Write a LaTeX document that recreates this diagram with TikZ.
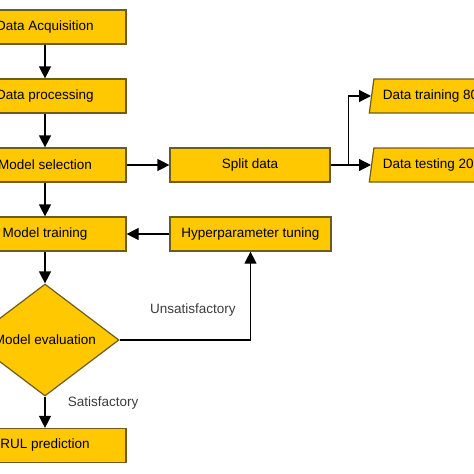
\documentclass[tikz,border=0pt]{standalone}
\usepackage{fontspec}
\setmainfont{Liberation Sans}
\usetikzlibrary{shapes.geometric,arrows.meta}
\definecolor{boxfill}{RGB}{255,200,0}
\definecolor{boxline}{RGB}{110,92,30}
\definecolor{labelgray}{RGB}{60,60,60}

\begin{document}
\begin{tikzpicture}[x=1pt, y=-1pt, font=\fontsize{13.5}{16}\selectfont, node distance={69pt}, line width=1.2pt, >={Triangle[length=12pt, width=12pt]}, main/.style = {draw=boxline, fill=boxfill, minimum width=162pt, minimum height=34pt, inner sep=0pt}, slant/.style = {draw=boxline, fill=boxfill, trapezium, trapezium left angle=70, trapezium right angle=110, trapezium stretches body, minimum height=34pt, inner xsep=9pt, inner ysep=0pt}, decide/.style = {draw=boxline, fill=boxfill, diamond, minimum width=148pt, minimum height=91pt, inner sep=0pt}]
                \useasboundingbox (0,0) rectangle (474,474);
                \node[main] (acq) at (45,27) {Data Acquisition};
                \node[main] (proc) [below of=acq] {Data processing};
                \node[main] (sel) [below of=proc] {Model selection};
                \node[main, minimum width=160pt] (split) [right of=sel, node distance=205pt] {Split data};
                \node[slant, anchor=west] (trn) at (371,96) {Data training 80\%};
                \node[slant, anchor=west] (tst) at (371,165) {Data testing 20\%};
                \node[main] (fit) [below of=sel] {Model training};
                \node[main, minimum width=161pt] (tune) [right of=fit, node distance=205.5pt] {Hyperparameter tuning};
                \node[decide] (eval) [below of=fit, node distance=106pt] {Model evaluation};
                \node[main] (rul) [below of=eval, node distance=105.5pt] {RUL prediction};
                \coordinate (fork) at ([xshift=18pt]split.east);
                \draw[->] (acq) -- (proc);
                \draw[->] (proc) -- (sel);
                \draw[->] (sel) -- (split);
                \draw[->] (sel) -- (fit);
                \draw (split) -- (fork);
                \draw[->] (fork) |- (trn);
                \draw[->] (fork) |- (tst);
                \draw[->] (tune) -- (fit);
                \draw[->] (fit) -- (eval);
                \draw[->] (eval) -| node[pos=0.28, above=20pt, text=labelgray] {Unsatisfactory} (tune);
                \draw[->] (eval) -- node[pos=0.22, right=19pt, text=labelgray] {Satisfactory} (rul);
            \end{tikzpicture}
\end{document}
